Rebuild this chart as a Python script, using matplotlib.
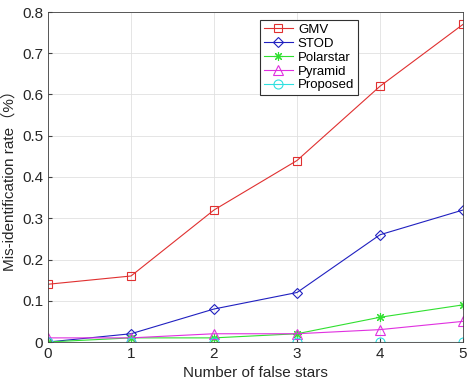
import numpy as np
import matplotlib.pyplot as plt

false_stars = [0, 1, 2, 3, 4, 5]
gmv = [0.14, 0.16, 0.32, 0.44, 0.62, 0.77]
stod = [0.0, 0.02, 0.08, 0.12, 0.26, 0.32]
polarstar = [0.0, 0.01, 0.01, 0.02, 0.06, 0.09]
pyramid = [0.01, 0.01, 0.02, 0.02, 0.03, 0.05]
proposed = [0.0, 0.0, 0.0, 0.0, 0.0, 0.0]

plt.rcParams['font.family'] = ['Liberation Sans', 'Noto Sans CJK SC', 'DejaVu Sans']
plt.rcParams['font.size'] = 11

fig = plt.figure(figsize=(4.74, 3.84), dpi=100)
ax = fig.add_axes([48/474, 1 - 342/384, 415/474, 330/384])

lw = 0.8
ax.plot(false_stars, gmv, color='#e03030', marker='s', mfc='none', ms=5.5, mew=0.8, lw=lw, label='GMV')
ax.plot(false_stars, stod, color='#2020c0', marker='D', mfc='none', ms=5.5, mew=0.8, lw=lw, label='STOD')
ax.plot(false_stars, polarstar, color='#30e030', marker=(8, 2, 0), mfc='none', ms=6.5, mew=0.8, lw=lw, label='Polarstar')
ax.plot(false_stars, pyramid, color='#e030e0', marker='^', mfc='none', ms=6.5, mew=0.8, lw=lw, label='Pyramid')
ax.plot(false_stars, proposed, color='#30e0e0', marker='o', mfc='none', ms=6.5, mew=0.8, lw=lw, label='Proposed')

ax.set_xlim(0, 5)
ax.set_ylim(0, 0.8)
ax.set_xticks(range(6))
ax.set_yticks(np.arange(0, 0.81, 0.1))
ax.set_yticklabels(['0', '0.1', '0.2', '0.3', '0.4', '0.5', '0.6', '0.7', '0.8'])
ax.grid(True, color='#e0e0e0', lw=0.6)
ax.set_axisbelow(True)
ax.tick_params(direction='in', length=3, color='#404040', labelcolor='#262626', labelsize=11)
for s in ax.spines.values():
    s.set_color('#404040')
    s.set_linewidth(0.6)

ax.set_xlabel('Number of false stars', color='#262626', fontsize=11)
ax.set_ylabel('Mis-identification rate（%）', color='#262626', fontsize=11)

leg = ax.legend(loc='upper left', bbox_to_anchor=(0.51, 0.976), fontsize=9.5,
                fancybox=False, edgecolor='#303030', framealpha=1,
                handlelength=2.2, handletextpad=0.4, borderpad=0.3,
                labelspacing=0.12, borderaxespad=0)
leg.get_frame().set_linewidth(0.8)

fig.savefig('out.png', dpi=100)
